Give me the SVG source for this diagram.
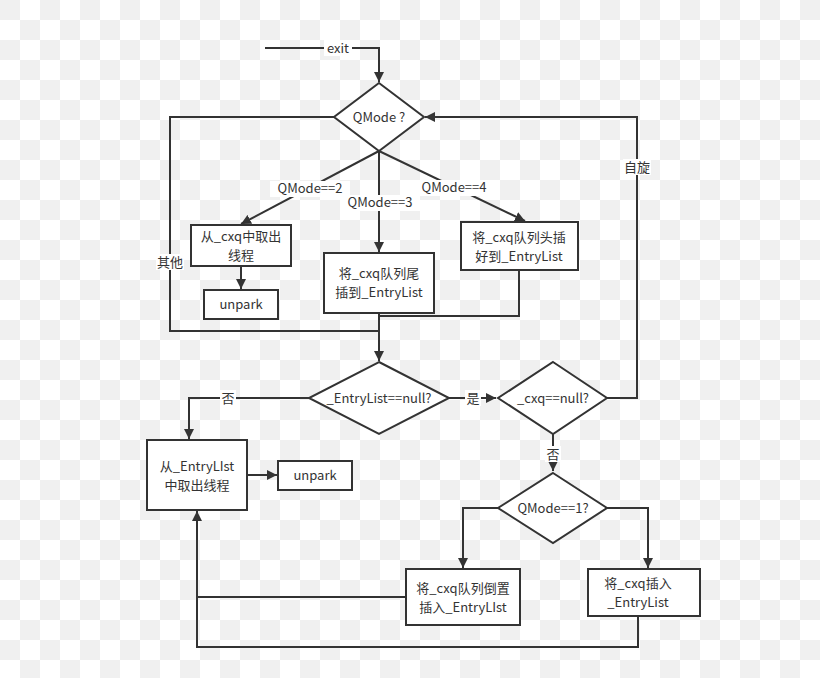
<svg xmlns="http://www.w3.org/2000/svg" width="820" height="678" viewBox="0 0 820 678">
<defs>
<pattern id="chk" width="40" height="40" patternUnits="userSpaceOnUse"><rect width="40" height="40" fill="#fff"/><rect width="20" height="20" fill="#f0f0f0"/><rect x="20" y="20" width="20" height="20" fill="#f0f0f0"/></pattern>
<marker id="ar" viewBox="0 0 10 10" refX="10" refY="5" markerWidth="10" markerHeight="10" markerUnits="userSpaceOnUse" orient="auto"><path d="M0,0 L10,5 L0,10 z" fill="#333"/></marker>
<style>
.n{fill:#fff;stroke:#333;stroke-width:2}
.c{fill:none;stroke:#333;stroke-width:2}
.a{fill:none;stroke:#333;stroke-width:2;marker-end:url(#ar)}
text{font-family:"Noto Sans CJK SC","Liberation Sans",sans-serif;font-size:13px;fill:#333;text-anchor:middle}
.lb{fill:#fff;stroke:none}
</style>
</defs>
<rect width="820" height="678" fill="url(#chk)"/>
<g id="connectors">
<path class="a" d="M265,48 H379 V82"/>
<path class="c" d="M334,117 H170 V331 H379"/>
<path class="a" d="M379,151 L241,224"/>
<path class="a" d="M379,151 V252"/>
<path class="a" d="M379,151 L525,221"/>
<path class="a" d="M241,266 V289"/>
<path class="c" d="M519,270 V316 H379"/>
<path class="a" d="M379,313 V361"/>
<path class="a" d="M449,398 H496"/>
<path class="a" d="M607,398 H637 V117 H425"/>
<path class="a" d="M309,398 H189 V439"/>
<path class="a" d="M247,475 H277"/>
<path class="a" d="M553,434 V471"/>
<path class="a" d="M498,508 H463 V568"/>
<path class="a" d="M607,508 H648 V568"/>
<path class="c" d="M406,597 H197"/>
<path class="a" d="M638,616 V647 H197 V511"/>
</g>
<g id="labels">
<rect class="lb" x="324" y="40" width="28" height="16"/><text x="338" y="53">exit</text>
<rect class="lb" x="156" y="254" width="28" height="16"/><text x="170" y="267">其他</text>
<rect class="lb" x="270" y="181" width="80" height="16"/><text x="310" y="193">QMode==2</text>
<rect class="lb" x="340" y="195" width="80" height="16"/><text x="380" y="207">QMode==3</text>
<rect class="lb" x="414" y="180" width="80" height="16"/><text x="454" y="192">QMode==4</text>
<rect class="lb" x="623" y="159" width="28" height="16"/><text x="637" y="172">自旋</text>
<rect class="lb" x="220" y="390" width="16" height="16"/><text x="228" y="403">否</text>
<rect class="lb" x="465" y="390" width="16" height="16"/><text x="473" y="403">是</text>
<rect class="lb" x="545" y="446" width="16" height="16"/><text x="553" y="459">否</text>
</g>
<g id="qmode"><path class="n" d="M379,83 L424,117 L379,151 L334,117 z"/><text x="379" y="122">QMode ?</text></g>
<g id="box2"><rect class="n" x="191" y="225" width="100" height="41"/><text x="241" y="241">从_cxq中取出</text><text x="241" y="260">线程</text></g>
<g id="unpark1"><rect class="n" x="204" y="290" width="74" height="29"/><text x="241" y="309">unpark</text></g>
<g id="box3"><rect class="n" x="324" y="253" width="110" height="60"/><text x="379" y="278">将_cxq队列尾</text><text x="379" y="297">插到_EntryList</text></g>
<g id="box4"><rect class="n" x="461" y="222" width="117" height="48"/><text x="519" y="242">将_cxq队列头插</text><text x="519" y="261">好到_EntryList</text></g>
<g id="entrylist"><path class="n" d="M379,362 L449,398 L379,434 L309,398 z"/><text x="379" y="403">_EntryList==null?</text></g>
<g id="cxq"><path class="n" d="M553,362 L607,398 L553,434 L498,398 z"/><text x="553" y="403">_cxq==null?</text></g>
<g id="take"><rect class="n" x="147" y="440" width="100" height="70"/><text x="197" y="471">从_EntryLIst</text><text x="197" y="490">中取出线程</text></g>
<g id="unpark2"><rect class="n" x="278" y="461" width="74" height="29"/><text x="315" y="480">unpark</text></g>
<g id="qmode1"><path class="n" d="M553,473 L607,508 L553,543 L498,508 z"/><text x="553" y="513">QMode==1?</text></g>
<g id="rev"><rect class="n" x="406" y="569" width="114" height="56"/><text x="463" y="593">将_cxq队列倒置</text><text x="463" y="612">插入_EntryLIst</text></g>
<g id="ins"><rect class="n" x="588" y="569" width="112" height="47"/><text x="638" y="588">将_cxq插入</text><text x="638" y="607">_EntryList</text></g>
</svg>
